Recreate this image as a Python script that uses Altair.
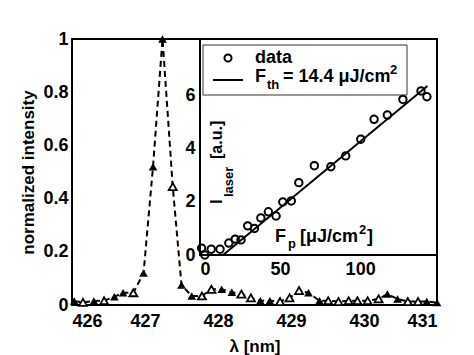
import altair as alt
import pandas as pd

# ---- main spectrum ----
lam = [426.03, 426.15, 426.3, 426.44, 426.58, 426.7, 426.84, 426.98, 427.11, 427.24,
       427.38, 427.5, 427.64, 427.78, 427.91, 428.05, 428.19, 428.32, 428.45, 428.58,
       428.71, 428.85, 428.98, 429.11, 429.24, 429.39, 429.51, 429.65, 429.79, 429.91,
       430.05, 430.2, 430.32, 430.46, 430.6, 430.74, 430.86, 431.0]
inten = [0.015, 0.01, 0.015, 0.016, 0.031, 0.046, 0.046, 0.12, 0.52, 1.0,
         0.445, 0.075, 0.034, 0.034, 0.059, 0.059, 0.048, 0.041, 0.027, 0.016,
         0.016, 0.013, 0.027, 0.054, 0.046, 0.016, 0.016, 0.013, 0.016, 0.016,
         0.016, 0.023, 0.041, 0.023, 0.013, 0.013, 0.013, 0.009]
filled = [True, False, True, False, True, True, False, True, True, True,
          False, True, True, False, False, True, True, False, False, True,
          True, False, False, False, True, True, False, False, False, False,
          False, False, True, True, False, False, True, True]

# ---- inset: laser intensity vs pump fluence ----
fp = [1, 3, 7, 12.5, 18, 22, 25.6, 29.8, 34, 38, 42.7, 47.5, 51.7, 57, 61.7,
      71.4, 81.7, 91, 100.4, 108.7, 117, 126.7, 138, 141.7]
ilaser = [0.26, 0.0, 0.22, 0.22, 0.45, 0.6, 0.57, 1.1, 1.0, 1.4, 1.63, 1.47, 2.0,
          2.04, 2.73, 3.37, 3.33, 3.74, 4.37, 5.12, 5.28, 5.87, 6.19, 5.97]
fit_fp = [14.4, 142.0]
fit_il = [0.0, 6.38]

main_x_ticks = [426, 427, 428, 429, 430, 431]
main_y_ticks = [0, 0.2, 0.4, 0.6, 0.8, 1]
inset_x_ticks = [0, 50, 100]
inset_y_ticks = [0, 2, 4, 6]
inset_x_dom = [0, 148]
inset_y_dom = [0, 8.15]

main_df = pd.DataFrame({"lam": lam, "inten": inten, "filled": filled})
inset_df = pd.DataFrame({"fp": fp, "il": ilaser})
fit_df = pd.DataFrame({"fp": fit_fp, "il": fit_il})
box_df = pd.DataFrame({"fp": [inset_x_dom[0]], "fp2": [inset_x_dom[1]],
                       "il": [inset_y_dom[0]], "il2": [inset_y_dom[1]]})
one = pd.DataFrame({"k": [0]})

FONT = "Liberation Sans"
W, H = 365, 266

# main encodings
xmain = alt.X("lam:Q",
              scale=alt.Scale(domain=[426, 431], nice=False, zero=False),
              axis=alt.Axis(values=main_x_ticks, format="d", title="λ [nm]",
                            ticks=False, domain=False, grid=False, labelPadding=7,
                            titleY=46, titleBaseline="alphabetic"))
ymain = alt.Y("inten:Q",
              scale=alt.Scale(domain=[0, 1], nice=False),
              axis=alt.Axis(values=main_y_ticks, format=".1~f",
                            title="normalized intensity",
                            ticks=False, domain=False, grid=False, labelPadding=4,
                            titleX=-39, titleY=133, titleAngle=270,
                            titleAlign="center", titleBaseline="alphabetic"))

line = alt.Chart(main_df).mark_line(color="black", strokeWidth=2,
                                    strokeDash=[6, 4]).encode(x=xmain, y=ymain)
pts_f = alt.Chart(main_df).transform_filter("datum.filled").mark_point(
    shape="triangle-up", size=75, filled=True, color="black", opacity=1
).encode(x=xmain, y=ymain)
pts_o = alt.Chart(main_df).transform_filter("!datum.filled").mark_point(
    shape="triangle-up", size=65, fill="white", stroke="black", strokeWidth=1.8,
    opacity=1, fillOpacity=1
).encode(x=xmain, y=ymain)
main = alt.layer(line, pts_o, pts_f)

# inset encodings
xin_scale = alt.Scale(domain=inset_x_dom, range=[128, 365], nice=False, zero=False)
yin_scale = alt.Scale(domain=inset_y_dom, range=[216, 0], nice=False, zero=False)
xin_axis = alt.Axis(values=inset_x_ticks, orient="bottom", offset=-50, title=None,
                    ticks=False, domain=False, grid=False, labelPadding=5)
yin_axis = alt.Axis(values=inset_y_ticks, orient="left", offset=-128, title=None,
                    ticks=False, domain=False, grid=False, labelPadding=5)

box = alt.Chart(box_df).mark_rect(fill="white", stroke="black", strokeWidth=2).encode(
    x=alt.X("fp:Q", scale=xin_scale, axis=xin_axis), x2="fp2:Q",
    y=alt.Y("il:Q", scale=yin_scale, axis=yin_axis), y2="il2:Q")
fit = alt.Chart(fit_df).mark_line(color="black", strokeWidth=2).encode(
    x=alt.X("fp:Q", scale=xin_scale, axis=xin_axis),
    y=alt.Y("il:Q", scale=yin_scale, axis=yin_axis))
circ = alt.Chart(inset_df).mark_point(shape="circle", size=55, filled=False,
                                      color="black", strokeWidth=2, opacity=1).encode(
    x=alt.X("fp:Q", scale=xin_scale, axis=xin_axis),
    y=alt.Y("il:Q", scale=yin_scale, axis=yin_axis))
inset = alt.layer(box, fit, circ)


def txt(s, x, y, size=17, angle=0):
    return alt.Chart(one).mark_text(
        text=s, align="left", baseline="alphabetic", font=FONT, fontSize=size,
        fontWeight="bold", angle=angle, color="black"
    ).encode(x=alt.value(x), y=alt.value(y))


leg_box = alt.Chart(one).mark_rect(fill="white", stroke="#333333", strokeWidth=1).encode(
    x=alt.value(131), x2=alt.value(335), y=alt.value(6), y2=alt.value(56))
leg_circ = alt.Chart(one).mark_point(shape="circle", size=50, filled=False,
                                     color="black", strokeWidth=2, opacity=1).encode(
    x=alt.value(156), y=alt.value(19))
leg_line = alt.Chart(one).mark_rule(color="black", strokeWidth=2).encode(
    x=alt.value(141), x2=alt.value(171), y=alt.value(41))

annots = alt.layer(
    leg_box, leg_circ, leg_line,
    txt("data", 183, 24, size=18),
    txt("F", 183, 43, size=18),
    txt("th", 195, 50, size=13),
    txt("= 14.4 μJ/cm", 211, 43, size=18),
    txt("2", 318, 35, size=13),
    # inset y title
    txt("I", 150, 165, angle=270),
    txt("laser", 161, 158, size=13, angle=270),
    txt("[a.u.]", 150, 120, size=16, angle=270),
    # inset x title
    txt("F", 203, 203, size=18),
    txt("p", 216, 209, size=13),
    txt("[μJ/cm", 228, 203, size=18),
    txt("2", 287, 195, size=13),
    txt("]", 295, 203, size=18),
)

chart = alt.layer(main, inset, annots).resolve_scale(
    x="independent", y="independent"
).properties(
    width=W, height=H,
    autosize=alt.AutoSizeParams(type="none"),
    padding={"left": 72, "top": 39, "right": 37, "bottom": 50},
    background="white",
).configure_view(
    stroke="black", strokeWidth=2
).configure_axis(
    labelFont=FONT, labelFontSize=18, labelFontWeight="bold", labelColor="black",
    titleFont=FONT, titleFontSize=17, titleFontWeight="bold", titleColor="black",
)

chart.save("out.html", embed_options={"renderer": "svg", "actions": False})
